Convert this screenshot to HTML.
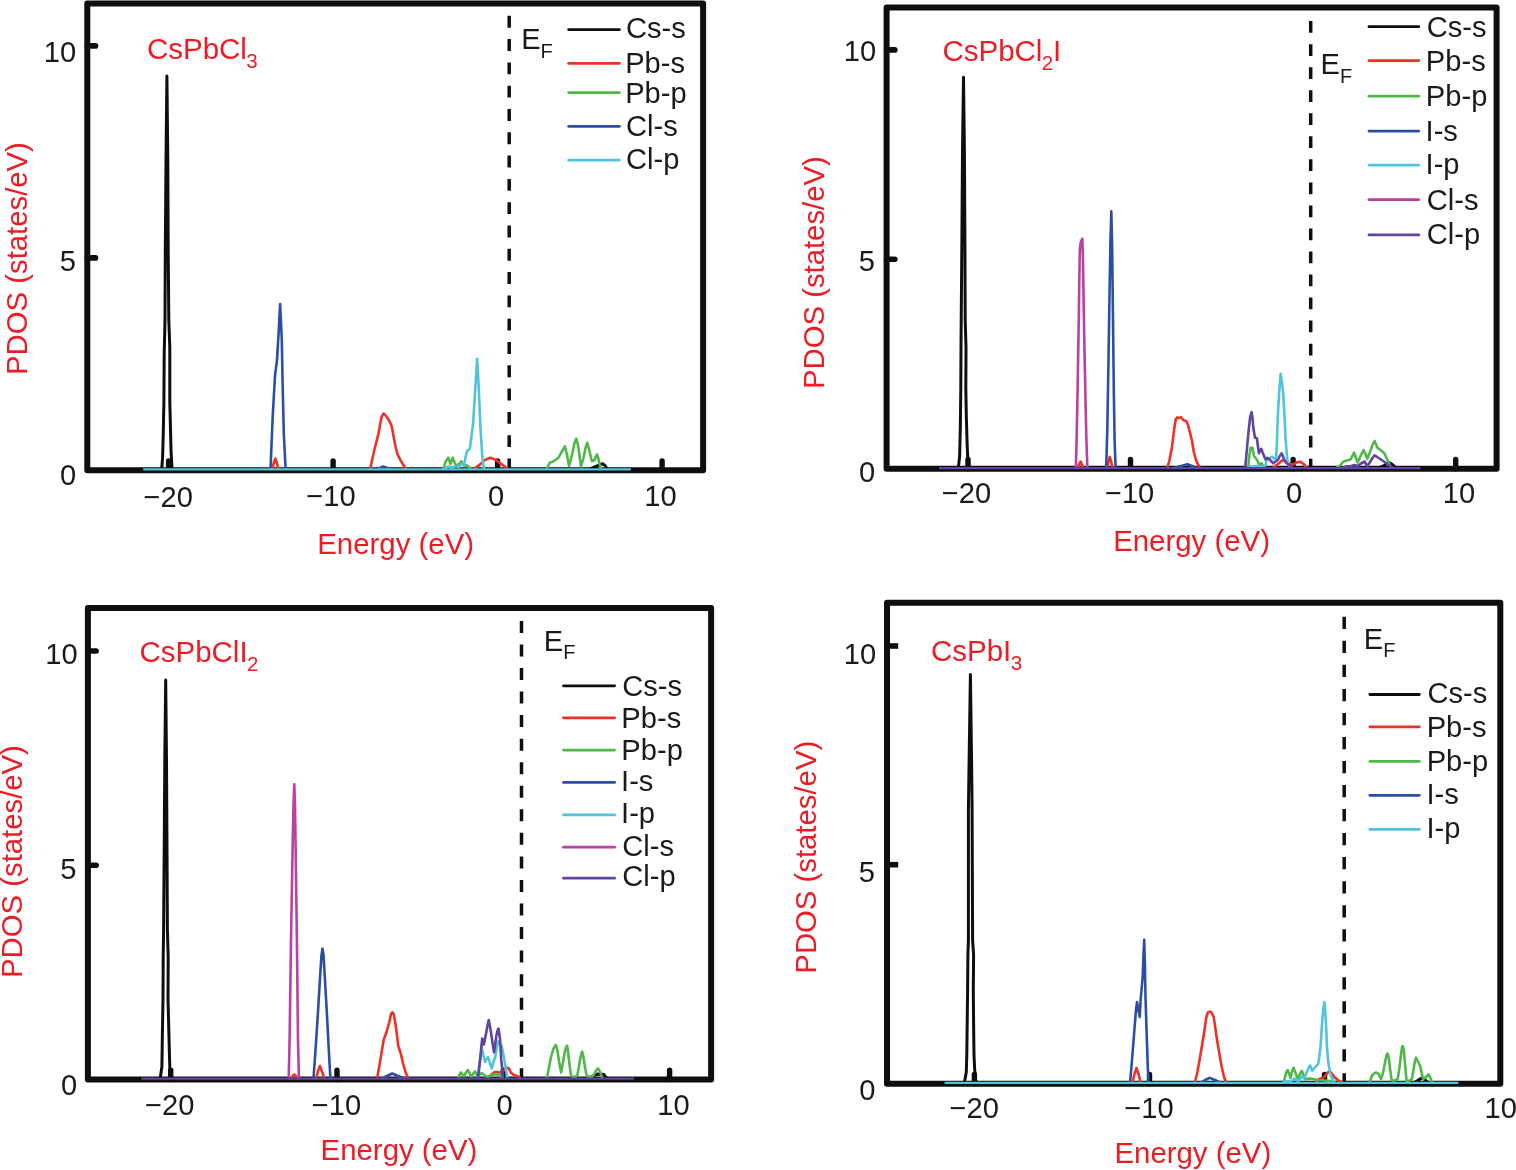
<!DOCTYPE html>
<html lang="en"><head><meta charset="utf-8"><title>PDOS of CsPbCl3, CsPbCl2I, CsPbClI2 and CsPbI3</title>
<style>html,body{margin:0;padding:0;background:#fff}body{width:1516px;height:1170px;overflow:hidden}svg{display:block}</style>
</head><body>
<svg width="1516" height="1170" viewBox="0 0 1516 1170" font-family='"Liberation Sans", Arial, Helvetica, sans-serif' font-size="29.1">
<rect width="1516" height="1170" fill="#fff"/>
<g><rect x="87.3" y="3.6" width="615.8" height="466.6" fill="none" stroke="#0e0e0e" stroke-width="6" stroke-linejoin="round"/>
<line x1="87.3" y1="45.9" x2="95.5" y2="45.9" stroke="#0e0e0e" stroke-width="5.6" stroke-linecap="round"/>
<line x1="87.3" y1="257.9" x2="95.5" y2="257.9" stroke="#0e0e0e" stroke-width="5.6" stroke-linecap="round"/>
<line x1="168.6" y1="470.2" x2="168.6" y2="460.9" stroke="#0e0e0e" stroke-width="5.4" stroke-linecap="round"/>
<line x1="333.1" y1="470.2" x2="333.1" y2="460.9" stroke="#0e0e0e" stroke-width="5.4" stroke-linecap="round"/>
<line x1="497.6" y1="470.2" x2="497.6" y2="460.9" stroke="#0e0e0e" stroke-width="5.4" stroke-linecap="round"/>
<line x1="662.1" y1="470.2" x2="662.1" y2="460.9" stroke="#0e0e0e" stroke-width="5.4" stroke-linecap="round"/>
<line x1="509.2" y1="15.8" x2="509.2" y2="470.2" stroke="#0e0e0e" stroke-width="3.5" stroke-dasharray="11.88 11.42"/>
<polyline points="161.7,469.0 161.9,467.0 162.6,456.8 163.2,436.2 163.9,402.0 164.2,354.2 165.0,320.0 165.3,250.0 166.0,160.0 166.9,76.0 167.8,160.0 168.2,250.0 168.8,320.0 169.8,347.4 169.8,402.0 170.5,429.4 171.0,449.9 171.9,467.0 172.2,469.0" fill="none" stroke="#0e0e0e" stroke-width="3.0" stroke-linejoin="round" stroke-linecap="round"/>
<polyline points="590.0,469.0 596.0,466.5 602.5,463.7 605.0,465.5 607.5,469.0" fill="none" stroke="#0e0e0e" stroke-width="3.0" stroke-linejoin="round" stroke-linecap="round"/>
<polyline points="272.3,469.0 273.8,463.0 275.3,458.6 276.8,463.0 278.6,469.0" fill="none" stroke="#ee3124" stroke-width="2.6" stroke-linejoin="round" stroke-linecap="round"/>
<polyline points="370.3,468.5 374.6,448.7 378.3,434.2 381.6,417.1 383.5,413.5 386.4,416.4 389.5,421.0 391.7,426.3 393.4,435.5 395.4,446.1 397.4,454.0 400.7,460.6 405.6,468.5" fill="none" stroke="#ee3124" stroke-width="2.6" stroke-linejoin="round" stroke-linecap="round"/>
<polyline points="474.6,468.5 479.8,464.6 485.1,459.9 490.4,457.7 495.7,459.9 501.0,463.9 507.5,468.5" fill="none" stroke="#ee3124" stroke-width="2.6" stroke-linejoin="round" stroke-linecap="round"/>
<polyline points="443.6,468.5 445.5,461.9 448.2,457.7 450.6,463.9 452.8,457.7 455.4,464.6 458.1,465.2 461.4,461.3 464.0,465.9 466.6,465.2 470.6,468.5" fill="none" stroke="#50b848" stroke-width="2.6" stroke-linejoin="round" stroke-linecap="round"/>
<polyline points="547.0,468.5 549.7,462.7 553.0,461.5 558.3,458.0 561.0,453.0 564.9,446.4 567.0,455.0 569.1,466.0 572.0,455.0 574.5,443.0 576.3,438.6 578.2,446.0 581.0,466.6 583.5,458.0 585.5,448.0 587.3,442.9 589.0,449.0 591.9,461.3 594.5,460.0 596.9,454.4 598.5,459.0 600.5,468.5" fill="none" stroke="#50b848" stroke-width="2.6" stroke-linejoin="round" stroke-linecap="round"/>
<polyline points="270.5,469.0 272.7,416.8 275.0,375.7 277.0,360.3 278.7,331.3 280.1,304.1 281.8,339.8 282.6,382.6 283.8,433.8 285.6,469.0" fill="none" stroke="#2c4ea2" stroke-width="2.6" stroke-linejoin="round" stroke-linecap="round"/>
<polyline points="378.0,469.0 381.0,467.5 383.0,466.5 386.0,467.5 390.0,469.0" fill="none" stroke="#2c4ea2" stroke-width="2.6" stroke-linejoin="round" stroke-linecap="round"/>
<polyline points="443.6,469.0 448.2,466.5 452.0,467.5 456.1,465.9 458.7,467.2 461.4,463.9 464.0,465.2 465.6,456.6 467.3,450.7 469.9,448.7 473.2,422.3 475.2,389.4 477.2,358.7 478.8,389.4 480.5,428.9 482.2,455.3 483.8,468.5" fill="none" stroke="#4fc4dc" stroke-width="2.6" stroke-linejoin="round" stroke-linecap="round"/>
<line x1="143.2" y1="469.4" x2="630.8" y2="469.4" stroke="#4fc4dc" stroke-width="2.2"/>
<line x1="568.7" y1="29.6" x2="619.4" y2="29.6" stroke="#0e0e0e" stroke-width="2.8" stroke-linecap="round"/>
<line x1="568.7" y1="63.3" x2="619.4" y2="63.3" stroke="#ee3124" stroke-width="2.8" stroke-linecap="round"/>
<line x1="568.7" y1="92.6" x2="619.4" y2="92.6" stroke="#50b848" stroke-width="2.8" stroke-linecap="round"/>
<line x1="568.7" y1="126.3" x2="619.4" y2="126.3" stroke="#2c4ea2" stroke-width="2.8" stroke-linecap="round"/>
<line x1="568.7" y1="160.2" x2="619.4" y2="160.2" stroke="#4fc4dc" stroke-width="2.8" stroke-linecap="round"/></g>
<g><rect x="886.6" y="7.4" width="610.0" height="461.4" fill="none" stroke="#0e0e0e" stroke-width="6" stroke-linejoin="round"/>
<line x1="886.6" y1="49.9" x2="894.8" y2="49.9" stroke="#0e0e0e" stroke-width="5.6" stroke-linecap="round"/>
<line x1="886.6" y1="259.3" x2="894.8" y2="259.3" stroke="#0e0e0e" stroke-width="5.6" stroke-linecap="round"/>
<line x1="968.0" y1="468.8" x2="968.0" y2="459.5" stroke="#0e0e0e" stroke-width="5.4" stroke-linecap="round"/>
<line x1="1130.5" y1="468.8" x2="1130.5" y2="459.5" stroke="#0e0e0e" stroke-width="5.4" stroke-linecap="round"/>
<line x1="1293.1" y1="468.8" x2="1293.1" y2="459.5" stroke="#0e0e0e" stroke-width="5.4" stroke-linecap="round"/>
<line x1="1455.7" y1="468.8" x2="1455.7" y2="459.5" stroke="#0e0e0e" stroke-width="5.4" stroke-linecap="round"/>
<line x1="1310.7" y1="21.1" x2="1310.7" y2="468.8" stroke="#0e0e0e" stroke-width="3.5" stroke-dasharray="11.75 11.29"/>
<polyline points="957.9,468.0 958.5,466.3 959.6,456.8 960.3,429.4 960.8,388.4 961.0,347.4 961.2,320.0 961.9,240.0 962.5,150.0 963.5,77.2 964.4,150.0 964.9,240.0 965.2,320.0 966.0,347.4 965.8,388.4 966.3,415.7 967.1,443.0 967.7,456.8 968.8,466.3 969.3,468.0" fill="none" stroke="#0e0e0e" stroke-width="3.0" stroke-linejoin="round" stroke-linecap="round"/>
<polyline points="1378.6,468.0 1384.0,465.5 1389.2,462.4 1393.0,465.0 1396.0,468.0" fill="none" stroke="#0e0e0e" stroke-width="3.0" stroke-linejoin="round" stroke-linecap="round"/>
<polyline points="1078.0,468.0 1079.3,464.0 1080.5,461.5 1081.8,464.0 1083.2,468.0" fill="none" stroke="#ee3124" stroke-width="2.6" stroke-linejoin="round" stroke-linecap="round"/>
<polyline points="1107.2,468.0 1108.5,461.0 1109.7,456.9 1111.0,461.0 1112.6,468.0" fill="none" stroke="#ee3124" stroke-width="2.6" stroke-linejoin="round" stroke-linecap="round"/>
<polyline points="1167.4,467.5 1169.5,460.0 1172.0,446.7 1174.6,426.2 1175.8,419.0 1177.2,417.4 1179.0,418.2 1181.0,417.2 1183.5,420.3 1186.2,421.0 1188.0,425.0 1190.0,432.6 1192.0,441.0 1193.8,451.8 1196.0,460.0 1199.5,467.5" fill="none" stroke="#ee3124" stroke-width="2.6" stroke-linejoin="round" stroke-linecap="round"/>
<polyline points="1273.3,467.5 1278.9,463.3 1282.8,460.0 1286.7,462.0 1290.0,464.0 1293.3,464.4 1297.0,462.3 1300.0,461.7 1303.0,463.5 1306.7,467.5" fill="none" stroke="#ee3124" stroke-width="2.6" stroke-linejoin="round" stroke-linecap="round"/>
<polyline points="1248.3,467.5 1249.3,456.0 1250.6,447.8 1252.4,447.8 1253.9,455.6 1255.5,458.0 1257.2,460.0 1258.9,464.4 1261.7,463.3 1263.9,467.5" fill="none" stroke="#50b848" stroke-width="2.6" stroke-linejoin="round" stroke-linecap="round"/>
<polyline points="1336.6,467.5 1340.0,465.5 1343.6,461.5 1347.0,460.5 1350.5,459.5 1354.1,452.7 1355.8,457.5 1357.6,462.4 1360.5,456.0 1363.7,450.1 1365.4,454.0 1367.2,458.9 1370.0,452.0 1372.5,445.0 1374.6,441.0 1375.9,444.0 1377.2,447.5 1380.5,450.0 1383.9,452.7 1385.2,455.0 1386.5,458.0 1388.5,462.0 1390.9,467.5" fill="none" stroke="#50b848" stroke-width="2.6" stroke-linejoin="round" stroke-linecap="round"/>
<polyline points="1106.2,468.0 1107.3,430.0 1108.5,360.0 1109.6,290.0 1110.5,240.0 1111.3,211.3 1112.2,250.0 1113.0,320.0 1113.8,390.0 1114.6,440.0 1115.6,468.0" fill="none" stroke="#2c4ea2" stroke-width="2.6" stroke-linejoin="round" stroke-linecap="round"/>
<polyline points="1173.3,468.0 1180.0,466.3 1187.4,464.3 1192.0,466.0 1196.4,468.0" fill="none" stroke="#2c4ea2" stroke-width="2.6" stroke-linejoin="round" stroke-linecap="round"/>
<polyline points="1248.0,467.5 1256.0,466.0 1262.0,466.5 1265.6,465.5 1266.7,459.4 1269.5,458.5 1272.2,456.7 1274.2,458.5 1276.1,458.9 1277.0,440.0 1277.8,416.7 1279.2,392.0 1280.6,373.8 1282.0,383.0 1283.3,394.4 1284.5,416.0 1285.6,438.9 1286.7,453.0 1287.8,463.3 1290.0,467.5" fill="none" stroke="#4fc4dc" stroke-width="2.6" stroke-linejoin="round" stroke-linecap="round"/>
<polyline points="1075.9,468.0 1076.6,440.0 1077.6,390.0 1078.6,330.0 1079.3,280.0 1079.8,249.0 1080.8,242.0 1082.3,238.7 1083.0,262.0 1083.6,300.0 1084.5,350.0 1085.5,400.0 1086.4,440.0 1087.4,468.0" fill="none" stroke="#bd3fa0" stroke-width="2.6" stroke-linejoin="round" stroke-linecap="round"/>
<polyline points="1245.3,467.5 1247.0,448.0 1248.9,427.8 1250.3,416.0 1251.7,412.1 1252.5,418.0 1253.3,427.8 1255.0,437.8 1256.9,438.3 1257.9,446.0 1258.9,453.3 1260.1,450.0 1261.3,448.9 1262.6,452.5 1263.9,455.6 1265.6,459.4 1267.8,457.8 1270.5,460.5 1273.3,463.3 1275.6,461.5 1277.8,460.0 1279.8,456.0 1281.7,453.3 1283.6,458.0 1285.6,462.2 1288.5,464.5 1292.2,467.5" fill="none" stroke="#5f45a2" stroke-width="2.6" stroke-linejoin="round" stroke-linecap="round"/>
<polyline points="1342.7,467.8 1347.0,466.3 1351.0,466.0 1354.6,465.0 1357.5,466.0 1361.0,463.5 1364.6,461.5 1366.0,464.0 1367.2,465.9 1370.0,462.0 1372.5,458.0 1374.6,455.3 1378.0,457.5 1383.9,461.5 1388.0,464.5 1392.7,467.5" fill="none" stroke="#5f45a2" stroke-width="2.6" stroke-linejoin="round" stroke-linecap="round"/>
<line x1="939.0" y1="468.2" x2="1420.3" y2="468.2" stroke="#5f45a2" stroke-width="2.2"/>
<line x1="1369.0" y1="26.7" x2="1418.8" y2="26.7" stroke="#0e0e0e" stroke-width="2.8" stroke-linecap="round"/>
<line x1="1369.0" y1="60.7" x2="1418.8" y2="60.7" stroke="#ee3124" stroke-width="2.8" stroke-linecap="round"/>
<line x1="1369.0" y1="96.2" x2="1418.8" y2="96.2" stroke="#50b848" stroke-width="2.8" stroke-linecap="round"/>
<line x1="1369.0" y1="131.1" x2="1418.8" y2="131.1" stroke="#2c4ea2" stroke-width="2.8" stroke-linecap="round"/>
<line x1="1369.0" y1="165.1" x2="1418.8" y2="165.1" stroke="#4fc4dc" stroke-width="2.8" stroke-linecap="round"/>
<line x1="1369.0" y1="199.6" x2="1418.8" y2="199.6" stroke="#bd3fa0" stroke-width="2.8" stroke-linecap="round"/>
<line x1="1369.0" y1="234.9" x2="1418.8" y2="234.9" stroke="#5f45a2" stroke-width="2.8" stroke-linecap="round"/></g>
<g><rect x="87.9" y="607.9" width="623.2" height="471.7" fill="none" stroke="#0e0e0e" stroke-width="6" stroke-linejoin="round"/>
<line x1="87.9" y1="651.0" x2="96.1" y2="651.0" stroke="#0e0e0e" stroke-width="5.6" stroke-linecap="round"/>
<line x1="87.9" y1="865.2" x2="96.1" y2="865.2" stroke="#0e0e0e" stroke-width="5.6" stroke-linecap="round"/>
<line x1="170.7" y1="1079.6" x2="170.7" y2="1070.3" stroke="#0e0e0e" stroke-width="5.4" stroke-linecap="round"/>
<line x1="337.0" y1="1079.6" x2="337.0" y2="1070.3" stroke="#0e0e0e" stroke-width="5.4" stroke-linecap="round"/>
<line x1="503.3" y1="1079.6" x2="503.3" y2="1070.3" stroke="#0e0e0e" stroke-width="5.4" stroke-linecap="round"/>
<line x1="669.6" y1="1079.6" x2="669.6" y2="1070.3" stroke="#0e0e0e" stroke-width="5.4" stroke-linecap="round"/>
<line x1="521.5" y1="620.9" x2="521.5" y2="1079.6" stroke="#0e0e0e" stroke-width="3.5" stroke-dasharray="12.01 11.54"/>
<polyline points="160.2,1078.5 160.5,1076.3 161.9,1066.8 162.3,1039.4 163.0,998.4 163.2,957.4 163.6,930.0 164.2,850.0 164.8,760.0 165.7,680.0 166.5,760.0 167.0,850.0 167.4,930.0 168.2,957.4 168.0,998.4 168.7,1025.7 169.4,1053.1 169.8,1066.8 170.5,1076.0 170.8,1078.5" fill="none" stroke="#0e0e0e" stroke-width="3.0" stroke-linejoin="round" stroke-linecap="round"/>
<polyline points="588.5,1078.5 593.2,1075.8 598.0,1074.0 603.9,1074.6 606.9,1078.5" fill="none" stroke="#0e0e0e" stroke-width="3.0" stroke-linejoin="round" stroke-linecap="round"/>
<polyline points="291.5,1078.5 293.0,1075.5 294.3,1074.5 295.6,1075.5 297.0,1078.5" fill="none" stroke="#ee3124" stroke-width="2.6" stroke-linejoin="round" stroke-linecap="round"/>
<polyline points="316.3,1078.5 318.0,1071.0 319.9,1066.0 321.8,1071.0 324.4,1078.5" fill="none" stroke="#ee3124" stroke-width="2.6" stroke-linejoin="round" stroke-linecap="round"/>
<polyline points="377.2,1078.0 380.0,1062.0 383.7,1039.7 386.5,1032.0 389.4,1022.0 391.0,1014.0 392.3,1012.3 393.8,1014.0 395.8,1026.0 398.3,1046.2 400.6,1053.0 403.2,1064.0 405.5,1072.0 408.1,1078.0" fill="none" stroke="#ee3124" stroke-width="2.6" stroke-linejoin="round" stroke-linecap="round"/>
<polyline points="488.0,1078.0 491.1,1074.8 494.0,1072.4 497.0,1072.0 499.4,1072.7 502.0,1071.3 504.1,1070.0 506.3,1068.5 508.3,1067.9 509.6,1069.8 510.7,1072.4 513.6,1074.8 518.4,1076.6 520.0,1078.0" fill="none" stroke="#ee3124" stroke-width="2.6" stroke-linejoin="round" stroke-linecap="round"/>
<polyline points="458.4,1078.0 459.6,1074.5 460.8,1072.4 462.3,1074.5 463.8,1076.5 466.0,1072.5 467.9,1070.0 469.7,1073.5 471.5,1077.0 473.3,1073.5 475.0,1071.3 476.5,1074.0 478.0,1076.5 479.8,1074.5 481.6,1073.0 484.5,1075.5 487.5,1077.0 490.5,1075.3 493.4,1074.2 496.4,1074.5 499.4,1074.2 501.8,1078.0" fill="none" stroke="#50b848" stroke-width="2.6" stroke-linejoin="round" stroke-linecap="round"/>
<polyline points="546.9,1078.0 548.9,1068.0 551.0,1057.0 553.5,1048.5 555.8,1044.9 557.3,1050.0 558.8,1059.4 560.0,1067.0 561.1,1072.4 562.9,1063.0 564.7,1052.3 566.0,1047.5 567.1,1045.7 568.0,1051.0 568.9,1059.4 570.1,1069.0 571.2,1076.0 574.0,1077.0 577.2,1076.0 578.7,1068.0 580.1,1059.4 581.2,1054.0 582.2,1051.7 583.3,1056.0 584.3,1062.9 585.5,1070.0 586.7,1076.0 590.0,1077.0 593.2,1076.0 595.6,1071.3 598.0,1068.3 600.3,1072.4 602.1,1078.0" fill="none" stroke="#50b848" stroke-width="2.6" stroke-linejoin="round" stroke-linecap="round"/>
<polyline points="313.5,1078.5 315.5,1050.0 317.9,1013.7 320.2,975.0 321.5,955.0 322.5,948.6 323.5,955.0 324.7,975.0 326.9,1013.7 328.8,1050.0 330.4,1078.5" fill="none" stroke="#2c4ea2" stroke-width="2.6" stroke-linejoin="round" stroke-linecap="round"/>
<polyline points="382.0,1078.5 387.0,1076.0 392.2,1073.5 398.0,1076.0 404.8,1078.5" fill="none" stroke="#2c4ea2" stroke-width="2.6" stroke-linejoin="round" stroke-linecap="round"/>
<polyline points="478.0,1078.0 479.5,1066.0 481.6,1047.5 483.3,1055.0 485.1,1061.8 486.6,1059.0 488.1,1057.0 489.9,1063.0 491.7,1068.3 493.5,1062.0 495.2,1057.0 496.7,1048.0 498.2,1041.4 500.0,1043.0 501.8,1046.3 503.3,1054.0 504.7,1061.8 505.9,1069.0 507.1,1078.0" fill="none" stroke="#4fc4dc" stroke-width="2.6" stroke-linejoin="round" stroke-linecap="round"/>
<polyline points="288.7,1078.5 289.6,1040.0 291.0,940.0 292.4,860.0 293.5,805.0 294.3,784.2 295.0,805.0 295.8,860.0 296.9,940.0 298.0,1040.0 298.9,1078.5" fill="none" stroke="#bd3fa0" stroke-width="2.6" stroke-linejoin="round" stroke-linecap="round"/>
<polyline points="478.0,1078.0 479.2,1067.0 480.4,1057.0 481.3,1047.0 482.2,1038.6 483.1,1042.0 483.9,1044.5 484.8,1040.0 485.7,1035.6 487.2,1027.0 488.7,1020.0 489.9,1026.0 491.1,1033.3 492.5,1043.0 494.0,1052.3 495.2,1044.0 496.4,1035.6 497.4,1031.0 498.4,1028.5 499.2,1033.0 500.0,1039.2 500.6,1049.0 501.2,1059.4 502.1,1068.0 502.9,1078.0" fill="none" stroke="#5f45a2" stroke-width="2.6" stroke-linejoin="round" stroke-linecap="round"/>
<line x1="141.4" y1="1078.6" x2="634.0" y2="1078.6" stroke="#5f45a2" stroke-width="2.2"/>
<line x1="563.5" y1="685.8" x2="614.6" y2="685.8" stroke="#0e0e0e" stroke-width="2.8" stroke-linecap="round"/>
<line x1="563.5" y1="717.9" x2="614.6" y2="717.9" stroke="#ee3124" stroke-width="2.8" stroke-linecap="round"/>
<line x1="563.5" y1="750.1" x2="614.6" y2="750.1" stroke="#50b848" stroke-width="2.8" stroke-linecap="round"/>
<line x1="563.5" y1="782.4" x2="614.6" y2="782.4" stroke="#2c4ea2" stroke-width="2.8" stroke-linecap="round"/>
<line x1="563.5" y1="814.9" x2="614.6" y2="814.9" stroke="#4fc4dc" stroke-width="2.8" stroke-linecap="round"/>
<line x1="563.5" y1="847.2" x2="614.6" y2="847.2" stroke="#bd3fa0" stroke-width="2.8" stroke-linecap="round"/>
<line x1="563.5" y1="878.2" x2="614.6" y2="878.2" stroke="#5f45a2" stroke-width="2.8" stroke-linecap="round"/></g>
<g><rect x="887.0" y="602.8" width="613.3" height="480.9" fill="none" stroke="#0e0e0e" stroke-width="6" stroke-linejoin="round"/>
<line x1="887.0" y1="646.0" x2="898.2" y2="646.0" stroke="#0e0e0e" stroke-width="5.6" stroke-linecap="butt"/>
<line x1="887.0" y1="864.7" x2="898.2" y2="864.7" stroke="#0e0e0e" stroke-width="5.6" stroke-linecap="butt"/>
<line x1="974.4" y1="1083.7" x2="974.4" y2="1074.4" stroke="#0e0e0e" stroke-width="5.4" stroke-linecap="round"/>
<line x1="1149.5" y1="1083.7" x2="1149.5" y2="1074.4" stroke="#0e0e0e" stroke-width="5.4" stroke-linecap="round"/>
<line x1="1324.5" y1="1083.7" x2="1324.5" y2="1074.4" stroke="#0e0e0e" stroke-width="5.4" stroke-linecap="round"/>
<line x1="1344.2" y1="616.8" x2="1344.2" y2="1083.7" stroke="#0e0e0e" stroke-width="3.5" stroke-dasharray="12.26 11.77"/>
<polyline points="963.6,1083.0 964.9,1080.0 966.3,1072.0 966.8,1055.0 967.2,1023.0 967.6,991.0 967.9,955.0 968.4,940.0 968.4,810.0 969.1,762.0 970.4,674.5 971.6,762.0 972.1,810.0 972.6,940.0 973.6,955.0 973.3,991.0 973.6,1023.0 974.0,1055.0 974.6,1068.0 975.5,1080.0 977.0,1083.0" fill="none" stroke="#0e0e0e" stroke-width="3.0" stroke-linejoin="round" stroke-linecap="round"/>
<polyline points="1414.5,1082.5 1418.5,1080.0 1422.0,1077.9 1425.0,1079.5 1428.0,1082.5" fill="none" stroke="#0e0e0e" stroke-width="3.0" stroke-linejoin="round" stroke-linecap="round"/>
<polyline points="1132.5,1082.5 1134.5,1074.0 1136.5,1068.1 1138.5,1074.0 1140.6,1082.5" fill="none" stroke="#ee3124" stroke-width="2.6" stroke-linejoin="round" stroke-linecap="round"/>
<polyline points="1195.0,1082.0 1197.0,1074.0 1199.1,1062.4 1201.6,1048.0 1204.0,1033.2 1206.4,1017.0 1207.8,1012.5 1209.2,1011.8 1210.8,1011.8 1212.3,1014.0 1213.7,1017.0 1215.3,1028.0 1217.0,1039.7 1219.4,1054.0 1221.8,1067.3 1223.8,1076.0 1225.9,1082.0" fill="none" stroke="#ee3124" stroke-width="2.6" stroke-linejoin="round" stroke-linecap="round"/>
<polyline points="1316.0,1082.0 1319.3,1079.1 1324.0,1077.3 1326.3,1074.5 1328.2,1072.0 1330.6,1072.0 1332.3,1074.0 1334.1,1076.7 1338.3,1080.3 1341.3,1082.0" fill="none" stroke="#ee3124" stroke-width="2.6" stroke-linejoin="round" stroke-linecap="round"/>
<polyline points="1283.7,1082.0 1285.4,1075.5 1286.7,1071.5 1287.8,1070.2 1289.1,1073.5 1290.4,1077.9 1292.0,1071.5 1293.5,1067.8 1295.6,1073.0 1297.9,1079.1 1299.9,1074.0 1301.8,1070.8 1303.4,1075.0 1305.0,1079.1 1310.4,1078.5 1318.0,1080.0 1331.8,1081.0" fill="none" stroke="#50b848" stroke-width="2.6" stroke-linejoin="round" stroke-linecap="round"/>
<polyline points="1369.8,1082.0 1372.1,1075.5 1374.3,1073.2 1376.3,1072.5 1378.7,1074.3 1381.0,1079.1 1383.0,1073.0 1385.3,1061.0 1386.6,1055.0 1387.6,1053.5 1388.8,1058.0 1390.2,1070.0 1391.7,1080.3 1394.5,1080.5 1397.7,1079.1 1399.4,1068.0 1401.1,1054.0 1402.1,1047.0 1402.8,1046.2 1403.8,1050.0 1405.2,1066.0 1406.6,1080.9 1409.5,1080.5 1411.9,1079.1 1413.3,1071.0 1414.8,1062.0 1416.1,1057.7 1418.2,1062.0 1420.2,1066.0 1421.7,1073.0 1423.2,1079.1 1426.0,1077.0 1428.6,1074.3 1430.4,1078.0 1432.1,1082.0" fill="none" stroke="#50b848" stroke-width="2.6" stroke-linejoin="round" stroke-linecap="round"/>
<polyline points="1130.1,1082.5 1132.0,1060.0 1134.0,1035.0 1135.8,1012.0 1137.0,1002.0 1138.0,1008.0 1139.8,1017.0 1140.6,1000.0 1142.6,978.0 1143.5,955.0 1144.2,939.7 1144.9,965.0 1145.5,997.5 1146.7,1035.0 1147.9,1070.6 1148.7,1082.5" fill="none" stroke="#2c4ea2" stroke-width="2.6" stroke-linejoin="round" stroke-linecap="round"/>
<polyline points="1200.7,1082.5 1205.0,1080.0 1209.6,1077.9 1215.0,1080.0 1220.2,1082.5" fill="none" stroke="#2c4ea2" stroke-width="2.6" stroke-linejoin="round" stroke-linecap="round"/>
<polyline points="1283.7,1082.0 1291.4,1080.9 1294.9,1078.5 1298.5,1081.4 1301.5,1076.7 1304.4,1078.5 1306.8,1072.0 1308.5,1068.0 1310.1,1065.4 1311.2,1068.5 1312.2,1070.8 1315.1,1067.2 1318.1,1064.2 1319.3,1057.0 1320.5,1047.0 1321.4,1034.0 1322.3,1019.7 1323.3,1009.0 1324.3,1002.3 1325.1,1009.0 1325.8,1019.7 1326.4,1034.0 1327.0,1047.0 1327.9,1058.0 1328.8,1066.0 1331.2,1076.7 1334.1,1081.5" fill="none" stroke="#4fc4dc" stroke-width="2.6" stroke-linejoin="round" stroke-linecap="round"/>
<line x1="944.6" y1="1082.8" x2="1458.4" y2="1082.8" stroke="#4fc4dc" stroke-width="2.2"/>
<line x1="1369.9" y1="694.5" x2="1419.3" y2="694.5" stroke="#0e0e0e" stroke-width="2.8" stroke-linecap="round"/>
<line x1="1369.9" y1="726.8" x2="1419.3" y2="726.8" stroke="#ee3124" stroke-width="2.8" stroke-linecap="round"/>
<line x1="1369.9" y1="761.4" x2="1419.3" y2="761.4" stroke="#50b848" stroke-width="2.8" stroke-linecap="round"/>
<line x1="1369.9" y1="795.3" x2="1419.3" y2="795.3" stroke="#2c4ea2" stroke-width="2.8" stroke-linecap="round"/>
<line x1="1369.9" y1="829.4" x2="1419.3" y2="829.4" stroke="#4fc4dc" stroke-width="2.8" stroke-linecap="round"/></g>
<g><text id="p1y10" x="43.82" y="62.00" font-size="29.10" fill="#1a1a1a">10</text>
<text id="p1y5" x="59.84" y="271.30" font-size="29.10" fill="#1a1a1a">5</text>
<text id="p1y0" x="59.91" y="484.60" font-size="29.10" fill="#1a1a1a">0</text>
<text id="p1x-20" x="143.62" y="506.60" font-size="29.10" fill="#1a1a1a">−20</text>
<text id="p1x-10" x="306.32" y="506.20" font-size="29.10" fill="#1a1a1a">−10</text>
<text id="p1x0" x="488.01" y="506.20" font-size="29.10" fill="#1a1a1a">0</text>
<text id="p1x10" x="644.22" y="505.80" font-size="29.10" fill="#1a1a1a">10</text>
<text id="p2y10" x="843.72" y="61.00" font-size="29.10" fill="#1a1a1a">10</text>
<text id="p2y5" x="858.84" y="271.30" font-size="29.10" fill="#1a1a1a">5</text>
<text id="p2y0" x="858.91" y="481.70" font-size="29.10" fill="#1a1a1a">0</text>
<text id="p2x-20" x="941.82" y="503.40" font-size="29.10" fill="#1a1a1a">−20</text>
<text id="p2x-10" x="1104.92" y="503.00" font-size="29.10" fill="#1a1a1a">−10</text>
<text id="p2x0" x="1285.91" y="503.40" font-size="29.10" fill="#1a1a1a">0</text>
<text id="p2x10" x="1442.82" y="503.40" font-size="29.10" fill="#1a1a1a">10</text>
<text id="p3y10" x="45.32" y="664.20" font-size="29.10" fill="#1a1a1a">10</text>
<text id="p3y5" x="60.34" y="879.00" font-size="29.10" fill="#1a1a1a">5</text>
<text id="p3y0" x="61.11" y="1094.70" font-size="29.10" fill="#1a1a1a">0</text>
<text id="p3x-20" x="145.02" y="1115.20" font-size="29.10" fill="#1a1a1a">−20</text>
<text id="p3x-10" x="311.82" y="1114.70" font-size="29.10" fill="#1a1a1a">−10</text>
<text id="p3x0" x="496.41" y="1114.60" font-size="29.10" fill="#1a1a1a">0</text>
<text id="p3x10" x="657.32" y="1114.60" font-size="29.10" fill="#1a1a1a">10</text>
<text id="p4y10" x="843.72" y="663.60" font-size="29.10" fill="#1a1a1a">10</text>
<text id="p4y5" x="858.84" y="881.50" font-size="29.10" fill="#1a1a1a">5</text>
<text id="p4y0" x="859.31" y="1099.70" font-size="29.10" fill="#1a1a1a">0</text>
<text id="p4x-20" x="949.62" y="1118.40" font-size="29.10" fill="#1a1a1a">−20</text>
<text id="p4x-10" x="1124.32" y="1117.50" font-size="29.10" fill="#1a1a1a">−10</text>
<text id="p4x0" x="1316.91" y="1117.50" font-size="29.10" fill="#1a1a1a">0</text>
<text id="p4x10" x="1484.52" y="1117.80" font-size="29.10" fill="#1a1a1a">10</text>
<text id="p1xl" x="317.25" y="553.70" font-size="29.40" fill="#ed1c24">Energy (eV)</text>
<text id="p2xl" x="1113.15" y="551.40" font-size="29.40" fill="#ed1c24">Energy (eV)</text>
<text id="p3xl" x="320.55" y="1159.80" font-size="29.40" fill="#ed1c24">Energy (eV)</text>
<text id="p4xl" x="1114.45" y="1163.10" font-size="29.40" fill="#ed1c24">Energy (eV)</text>
<text id="p1yl" transform="translate(26.90 374.94) rotate(-90)" font-size="29.30" fill="#ed1c24">PDOS (states/eV)</text>
<text id="p2yl" transform="translate(824.10 389.04) rotate(-90)" font-size="29.30" fill="#ed1c24">PDOS (states/eV)</text>
<text id="p3yl" transform="translate(21.80 977.94) rotate(-90)" font-size="29.30" fill="#ed1c24">PDOS (states/eV)</text>
<text id="p4yl" transform="translate(816.40 973.64) rotate(-90)" font-size="29.30" fill="#ed1c24">PDOS (states/eV)</text>
<text id="p1ef" x="521.17" y="49.40" fill="#1a1a1a"><tspan font-size="29.10" dy="0.00">E</tspan><tspan font-size="20.00" dy="8.40">F</tspan></text>
<text id="p2ef" x="1320.57" y="74.40" fill="#1a1a1a"><tspan font-size="29.10" dy="0.00">E</tspan><tspan font-size="20.00" dy="8.40">F</tspan></text>
<text id="p3ef" x="543.87" y="651.00" fill="#1a1a1a"><tspan font-size="29.10" dy="0.00">E</tspan><tspan font-size="20.00" dy="8.40">F</tspan></text>
<text id="p4ef" x="1363.87" y="648.60" fill="#1a1a1a"><tspan font-size="29.10" dy="0.00">E</tspan><tspan font-size="20.00" dy="8.40">F</tspan></text>
<text id="p1l0" x="626.04" y="38.00" font-size="29.10" fill="#1a1a1a">Cs-s</text>
<text id="p1l1" x="625.17" y="73.10" font-size="29.10" fill="#1a1a1a">Pb-s</text>
<text id="p1l2" x="625.17" y="102.60" font-size="29.10" fill="#1a1a1a">Pb-p</text>
<text id="p1l3" x="626.04" y="135.80" font-size="29.10" fill="#1a1a1a">Cl-s</text>
<text id="p1l4" x="626.04" y="168.60" font-size="29.10" fill="#1a1a1a">Cl-p</text>
<text id="p2l0" x="1426.75" y="36.70" font-size="29.10" fill="#1a1a1a">Cs-s</text>
<text id="p2l1" x="1425.87" y="70.70" font-size="29.10" fill="#1a1a1a">Pb-s</text>
<text id="p2l2" x="1425.87" y="106.20" font-size="29.10" fill="#1a1a1a">Pb-p</text>
<text id="p2l3" x="1425.58" y="141.10" font-size="29.10" fill="#1a1a1a">I-s</text>
<text id="p2l4" x="1425.58" y="174.40" font-size="29.10" fill="#1a1a1a">I-p</text>
<text id="p2l5" x="1426.75" y="209.60" font-size="29.10" fill="#1a1a1a">Cl-s</text>
<text id="p2l6" x="1426.75" y="244.40" font-size="29.10" fill="#1a1a1a">Cl-p</text>
<text id="p3l0" x="622.25" y="695.70" font-size="29.10" fill="#1a1a1a">Cs-s</text>
<text id="p3l1" x="621.37" y="727.70" font-size="29.10" fill="#1a1a1a">Pb-s</text>
<text id="p3l2" x="621.37" y="760.00" font-size="29.10" fill="#1a1a1a">Pb-p</text>
<text id="p3l3" x="621.08" y="790.70" font-size="29.10" fill="#1a1a1a">I-s</text>
<text id="p3l4" x="621.08" y="823.10" font-size="29.10" fill="#1a1a1a">I-p</text>
<text id="p3l5" x="622.25" y="855.60" font-size="29.10" fill="#1a1a1a">Cl-s</text>
<text id="p3l6" x="622.25" y="886.40" font-size="29.10" fill="#1a1a1a">Cl-p</text>
<text id="p4l0" x="1427.55" y="703.00" font-size="29.10" fill="#1a1a1a">Cs-s</text>
<text id="p4l1" x="1426.67" y="736.80" font-size="29.10" fill="#1a1a1a">Pb-s</text>
<text id="p4l2" x="1426.67" y="770.90" font-size="29.10" fill="#1a1a1a">Pb-p</text>
<text id="p4l3" x="1426.38" y="804.20" font-size="29.10" fill="#1a1a1a">I-s</text>
<text id="p4l4" x="1426.38" y="837.60" font-size="29.10" fill="#1a1a1a">I-p</text>
<text id="t1" x="146.93" y="59.10" fill="#ed1c24"><tspan font-size="29.50" dy="0.00">CsPbCl</tspan><tspan font-size="20.50" dy="9.00" dx="-0.60">3</tspan></text>
<text id="t2" x="942.42" y="61.00" fill="#ed1c24"><tspan font-size="29.50" dy="0.00">CsPbCl</tspan><tspan font-size="20.50" dy="9.10" dx="-0.60">2</tspan><tspan font-size="29.50" dy="-9.10" dx="-0.20">I</tspan></text>
<text id="t3" x="139.43" y="662.20" fill="#ed1c24"><tspan font-size="29.50" dy="0.00">CsPbClI</tspan><tspan font-size="20.50" dy="9.10" dx="-0.60">2</tspan></text>
<text id="t4" x="930.92" y="660.60" fill="#ed1c24"><tspan font-size="29.50" dy="0.00">CsPbI</tspan><tspan font-size="20.50" dy="9.10" dx="-0.60">3</tspan></text></g>
</svg>
</body></html>
